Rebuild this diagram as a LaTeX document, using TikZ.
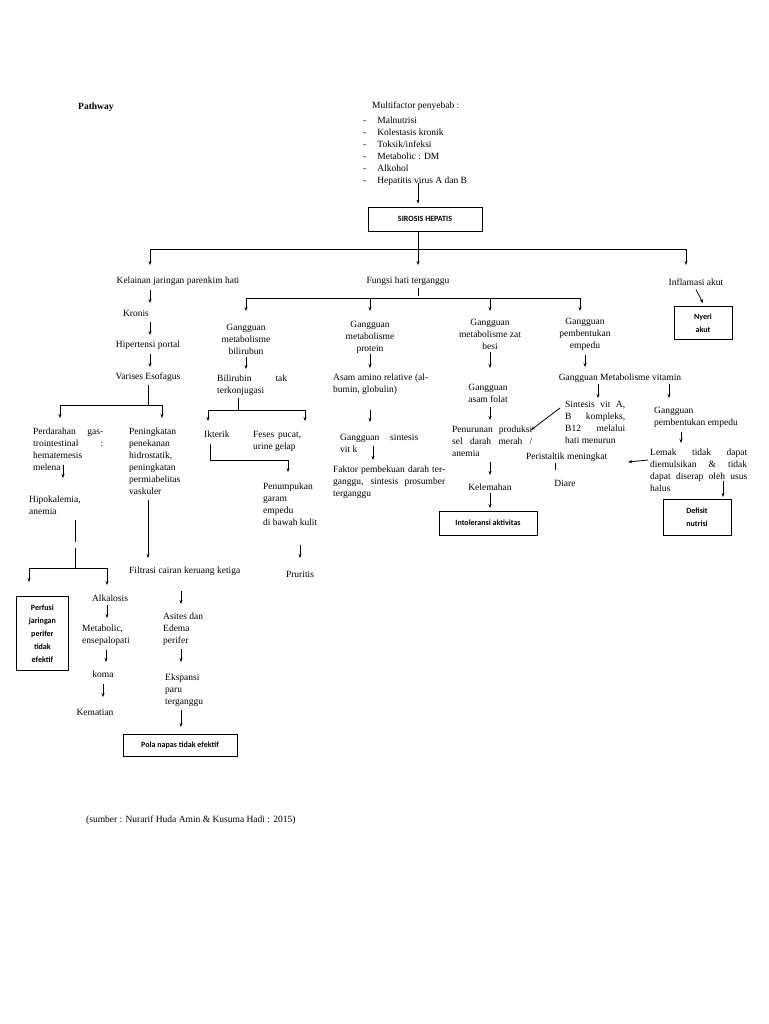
\documentclass[tikz,border=0pt]{standalone}
\usepackage{fontspec}
\setmainfont{Liberation Serif}
\newfontfamily\boxfont{Carlito}
\usetikzlibrary{arrows.meta,calc}
\tikzset{
  txt/.style={font=\fontsize{9.5}{12}\selectfont, inner sep=0pt, align=left},
  jtxt/.style={txt, text width=#1, align=justify},
  ctxt/.style={txt, align=center},
  box/.style={draw, thick, font=\boxfont\bfseries\fontsize{8}{13}\selectfont,
    align=center, inner sep=2pt},
  arr/.style={-{Stealth[length=4pt,width=3pt]}, thick},
  ln/.style={thick}
}
\begin{document}
\begin{tikzpicture}[x=1pt,y=-1pt]
\useasboundingbox (0,0) rectangle (768,1024);
\fill[white] (0,0) rectangle (768,1024);

% header
\node[txt, anchor=north west, font=\bfseries\fontsize{9.5}{12}\selectfont] (pathway) at (78,103) {Pathway};
\node[txt, anchor=north west] (multi) at (372,102) {Multifactor penyebab :};
\node[txt, anchor=north west] (causes) at (363,115) {%
  \begin{tabular}{@{}l@{\hspace{11pt}}l@{}}
  - & Malnutrisi\\ - & Kolestasis kronik\\ - & Toksik/infeksi\\
  - & Metabolic : DM\\ - & Alkohol\\ - & Hepatitis virus A dan B
  \end{tabular}};
\node[box, minimum width=114, minimum height=24] (sirosis) at (425,219) {SIROSIS HEPATIS};

% level 1
\node[ctxt] (kelainan) at (178,281) {Kelainan jaringan parenkim hati};
\node[ctxt] (fungsi) at (408,281) {Fungsi hati terganggu};
\node[ctxt] (inflamasi) at (696,282) {Inflamasi akut};
\node[box, minimum width=58, minimum height=33] (nyeri) at (703,323) {Nyeri\\akut};

% left column
\node[ctxt] (kronis) at (136,313) {Kronis};
\node[ctxt] (hiper) at (148,345) {Hipertensi portal};
\node[ctxt] (varises) at (148,377) {Varises Esofagus};
\node[jtxt=70, anchor=north west] (perdarahan) at (33,428) {Perdarahan gastrointestinal : hematemesis melena};
\node[txt, anchor=north west] (hipo) at (29,496) {Hipokalemia,\\anemia};
\node[box, anchor=north west, minimum width=52, minimum height=74] (perfusi) at (16,596) {Perfusi\\jaringan\\perifer\\tidak\\efektif};
\node[ctxt] (alkalosis) at (110,598) {Alkalosis};
\node[txt, anchor=north west] (metabolic) at (82,625) {Metabolic,\\ensepalopati};
\node[ctxt] (koma) at (103,674) {koma};
\node[ctxt] (kematian) at (95,712) {Kematian};
\node[txt, anchor=north west] (peningkatan) at (129,428) {Peningkatan\\penekanan\\hidrostatik,\\peningkatan\\permiabelitas\\vaskuler};
\node[jtxt=117, anchor=north west] (filtrasi) at (129,567) {Filtrasi cairan keruang ketiga};
\node[txt, anchor=north west] (asites) at (163,613) {Asites dan\\Edema\\perifer};
\node[txt, anchor=north west] (ekspansi) at (165,674) {Ekspansi\\paru\\terganggu};
\node[box, minimum width=114, minimum height=22] (pola) at (180,745) {Pola napas tidak efektif};

% fungsi branches
\node[ctxt] (gmb) at (246,339) {Gangguan\\metabolisme\\bilirubun};
\node[ctxt] (gmp) at (370,337) {Gangguan\\metabolisme\\protein};
\node[ctxt] (gmz) at (490,334) {Gangguan\\metabolisme zat\\besi};
\node[ctxt] (gpe) at (585,334) {Gangguan\\pembentukan\\empedu};

\node[jtxt=70, anchor=north west] (bili) at (217,375) {Bilirubin tak terkonjugasi};
\node[txt, anchor=north west] (ikterik) at (204,431) {Ikterik};
\node[jtxt=48, anchor=north west] (feses) at (253,431) {Feses pucat, urine gelap};
\node[jtxt=54, anchor=north west] (penumpukan) at (263,483) {Penumpukan garam empedu di bawah kulit};
\node[ctxt] (pruritis) at (300,574) {Pruritis};

\node[jtxt=95, anchor=north west] (asam) at (333,374) {Asam amino relative (albumin, globulin)};
\node[jtxt=78, anchor=north west] (gsv) at (340,434) {Gangguan sintesis vit k};
\node[jtxt=112, anchor=north west] (faktor) at (333,466) {Faktor pembekuan darah terganggu, sintesis prosumber terganggu};

\node[ctxt] (gaf) at (488,393) {Gangguan\\asam folat};
\node[jtxt=80, anchor=north west] (penurunan) at (452,426) {Penurunan produksi sel darah merah / anemia};
\node[ctxt] (kelemahan) at (490,487) {Kelemahan};
\node[box, minimum width=98, minimum height=24] (intol) at (488,523) {Intoleransi aktivitas};

\node[ctxt] (gmv) at (620,378) {Gangguan Metabolisme vitamin};
\node[jtxt=60, anchor=north west] (sintesis) at (565,401) {Sintesis vit A, B kompleks, B12 melalui hati menurun};
\node[txt, anchor=north west] (gpe2) at (654,407) {Gangguan\\pembentukan empedu};
\node[jtxt=97, anchor=north west] (lemak) at (650,449) {Lemak tidak dapat diemulsikan \& tidak dapat diserap oleh usus halus};
\node[box, minimum width=68, minimum height=36] (defisit) at (697,517) {Defisit\\nutrisi};
\node[txt, anchor=north west] (peristaltik) at (526,453) {Peristaltik meningkat};
\node[ctxt] (diare) at (565,483) {Diare};

\node[txt, anchor=north west] (sumber) at (86,816) {(sumber : Nurarif Huda Amin \& Kusuma Hadi : 2015)};

% connectors
\draw[arr] (causes.south -| sirosis.north) ++(-7,-4) -- ([xshift=-7pt,yshift=3pt]sirosis.north);
\draw[ln] ([xshift=-7pt]sirosis.south) -- ++(0,18) coordinate (s1);
\draw[ln] (150,249) -- (686,249);
\draw[arr] (150,249) -- (150,265);
\draw[arr] (s1) -- (418,265);
\draw[arr] (686,249) -- (686,265);
\draw[arr] ([yshift=-4pt]inflamasi.south) -- ([yshift=3pt]nyeri.north);

\draw[arr] (150,290) -- (150,303);
\draw[arr] (150,322) -- (150,335);
\draw[arr] (150,354) -- (150,367);
\draw[ln] (148,385) -- (148,405);
\draw[ln] (60,405) -- (162,405);
\draw[arr] (60,405) -- (60,418);
\draw[arr] (162,405) -- (162,418);
\draw[arr] (63,465) -- (63,478);
\draw[ln] (75,520) -- (75,542);
\draw[ln] (75,548) -- (75,568);
\draw[ln] (29,568) -- (107,568);
\draw[arr] (29,568) -- (29,582);
\draw[arr] (107,568) -- (107,585);
\draw[arr] (107,605) -- (107,618);
\draw[arr] (106,650) -- (106,662);
\draw[arr] (103,684) -- (103,697);
\draw[ln] (148,500) -- (148,540);
\draw[arr] (148,540) -- (148,558);
\draw[arr] (181,591) -- (181,604);
\draw[arr] (181,649) -- (181,662);
\draw[arr] (181,710) -- (181,727);

\draw[ln] (418,288) -- (418,296);
\draw[ln] (246,298) -- (580,298);
\foreach \x in {246,370,490,580} \draw[arr] (\x,298) -- (\x,311);

\draw[arr] (246,357) -- (246,369);
\draw[ln] (238,398) -- (238,410);
\draw[ln] (208,410) -- (305,410);
\draw[arr] (208,410) -- (208,421);
\draw[arr] (305,410) -- (305,421);
\draw[ln] (210,444) -- (210,460) -- (288,460);
\draw[arr] (288,460) -- (288,472);
\draw[arr] (300,545) -- (300,558);

\draw[arr] (370,354) -- (370,368);
\draw[arr] (370,410) -- (370,422);
\draw[arr] (373,446) -- (373,460);

\draw[arr] (490,352) -- (490,368);
\draw[arr] (490,407) -- (490,420);
\draw[arr] (490,462) -- (490,475);
\draw[arr] (490,493) -- (490,508);

\draw[arr] (585,355) -- (585,367);
\draw[arr] (598,384) -- (598,398);
\draw[arr] (669,384) -- (669,398);
\draw[arr] (560,408) -- (531,430);
\draw[arr] (681,432) -- (681,443);
\draw[arr] (648,460) -- (628,462);
\draw[arr] (723,481) -- (723,497);
\draw[ln] (555,463) -- (555,470);
\end{tikzpicture}
\end{document}
